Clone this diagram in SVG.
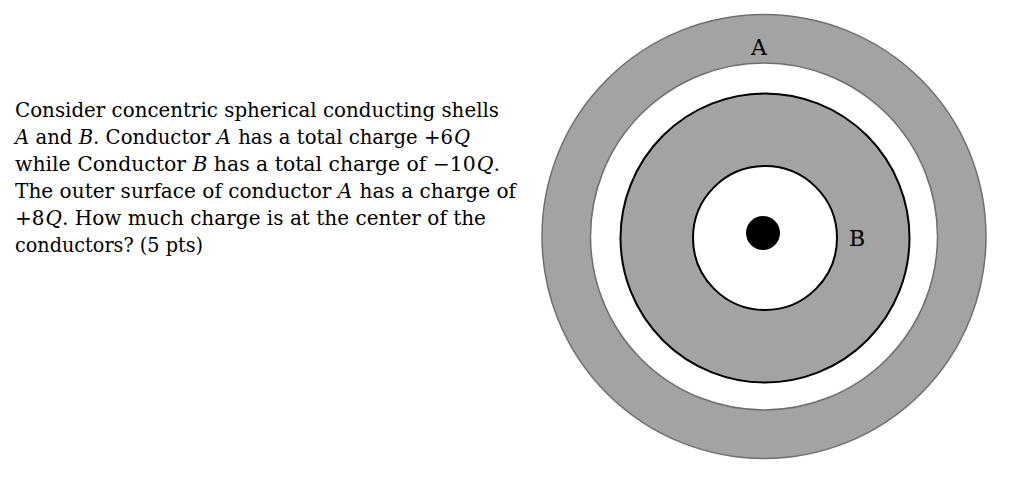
<svg xmlns="http://www.w3.org/2000/svg" width="1024" height="503" viewBox="0 0 1024 503">
<style>
.q{font-family:"DejaVu Serif","Liberation Serif",serif;font-size:20.5px;fill:#000}
.i{font-style:italic}
.lbl{font-family:"DejaVu Serif","Liberation Serif",serif;font-size:22px;fill:#000}
.shellA{fill:#a3a3a3;stroke:#6f6f6f;stroke-width:1.5}
.gap{fill:#fff;stroke:#6f6f6f;stroke-width:1.5}
.shellB{fill:#a3a3a3;stroke:#000;stroke-width:2}
.cav{fill:#fff;stroke:#000;stroke-width:2}
</style>
<rect width="1024" height="503" fill="#fff"/>
<g id="question">
<text class="q" x="15" y="117" textLength="484" lengthAdjust="spacingAndGlyphs">Consider concentric spherical conducting shells</text>
<text class="q" x="15" y="144" textLength="455" lengthAdjust="spacingAndGlyphs"><tspan class="i">A</tspan> and <tspan class="i">B</tspan>. Conductor <tspan class="i">A</tspan><tspan dx="1"> has a total charge +6</tspan><tspan class="i" dx="1">Q</tspan></text>
<text class="q" x="15" y="171" textLength="485" lengthAdjust="spacingAndGlyphs">while Conductor <tspan class="i">B</tspan> has a total charge of −10<tspan class="i" dx="1">Q</tspan>.</text>
<text class="q" x="15" y="198" textLength="501" lengthAdjust="spacingAndGlyphs">The outer surface of conductor <tspan class="i">A</tspan><tspan dx="1"> has a charge of</tspan></text>
<text class="q" x="15" y="225" textLength="471" lengthAdjust="spacingAndGlyphs">+8<tspan class="i" dx="1">Q</tspan>. How much charge is at the center of the</text>
<text class="q" x="15" y="252" textLength="188" lengthAdjust="spacingAndGlyphs">conductors? (5 pts)</text>
</g>
<g id="shellA">
<circle class="shellA" cx="764" cy="236.5" r="222"/>
<circle class="gap" cx="764" cy="236.5" r="173.5"/>
<text class="lbl" x="759" y="55" text-anchor="middle">A</text>
</g>
<g id="shellB">
<circle class="shellB" cx="765" cy="238" r="144.5"/>
<circle class="cav" cx="765" cy="238" r="72"/>
<text class="lbl" x="857" y="246" text-anchor="middle">B</text>
</g>
<g id="charge">
<circle cx="763" cy="233" r="17" fill="#000"/>
</g>
</svg>
